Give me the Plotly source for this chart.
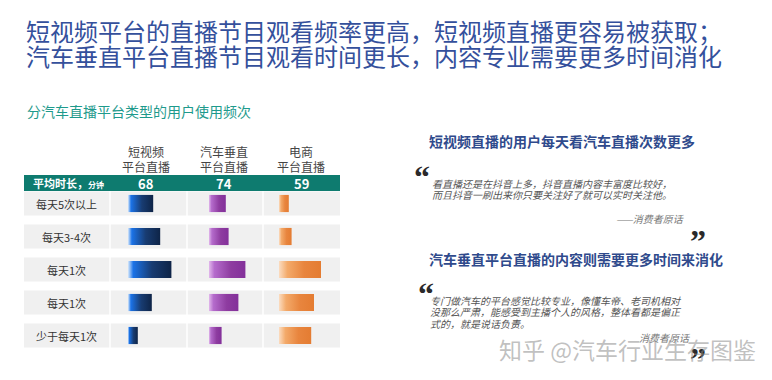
import plotly.graph_objects as go

W, H = 772, 380

# ---------------- data ----------------
title_lines = ["短视频平台的直播节目观看频率更高，短视频直播更容易被获取；",
               "汽车垂直平台直播节目观看时间更长，内容专业需要更多时间消化"]
subtitle = "分汽车直播平台类型的用户使用频次"
platform_top = ["短视频", "汽车垂直", "电商"]
platform_bottom = ["平台直播", "平台直播", "平台直播"]
avg_minutes = [68, 74, 59]
freq_labels = ["每天5次以上", "每天3-4次", "每天1次", "每天1次", "少于每天1次"]
short_video = [18, 23, 31, 17, 7]
car_vertical = [12, 14, 26, 21, 9]
ecommerce = [7, 9, 30, 25, 23]

heading1 = "短视频直播的用户每天看汽车直播次数更多"
quote1 = ["看直播还是在抖音上多，抖音直播内容丰富度比较好，",
          "而且抖音一刷出来你只要关注好了就可以实时关注他。"]
source1 = "——消费者原话"
heading2 = "汽车垂直平台直播的内容则需要更多时间来消化"
quote2 = ["专门做汽车的平台感觉比较专业，像懂车帝、老司机相对",
          "没那么严肃，能感受到主播个人的风格，整体看都是偏正",
          "式的，就是说话负责。"]
source2 = "消费者原话"
watermark = "知乎 @汽车行业生存图鉴"

# ---------------- helpers ----------------
def X(px):
    return px / W

def Y(py):
    return 1 - py / H

FONT = "Noto Sans CJK SC"
series = [short_video, car_vertical, ecommerce]
col_start = [128, 209, 279]
col_center = [146, 224, 301]
scales = [
    [[0, "#d8e9fb"], [0.12, "#1b73e8"], [0.55, "#183c72"], [1, "#0e2447"]],
    [[0, "#e2b8ec"], [0.15, "#b56ccc"], [0.6, "#8e3ca0"], [1, "#83309a"]],
    [[0, "#fbdcc0"], [0.2, "#f3aa6a"], [0.6, "#e8853e"], [1, "#e47c32"]],
]
XMAX = 50          # axis range (units)
XPIX = 70          # pixels covered by the axis range
n = len(freq_labels)
row_top, row_step = 187, 33
y_dom = [Y(row_top + n * row_step), Y(row_top)]
bar_h = 0.26
band_h = 0.36

fig = go.Figure()

for k, vals in enumerate(series):
    xa = "x" if k == 0 else f"x{k+1}"
    for i, v in enumerate(vals):
        fig.add_trace(go.Scatter(
            x=[0, v, v, 0, 0],
            y=[i - bar_h, i - bar_h, i + bar_h, i + bar_h, i - bar_h],
            fill="toself", mode="lines", line=dict(width=0),
            fillgradient=dict(type="horizontal", colorscale=scales[k]),
            xaxis=xa, yaxis="y", hoverinfo="skip", showlegend=False))

layout = dict(
    width=W, height=H, margin=dict(l=0, r=0, t=0, b=0),
    paper_bgcolor="white", plot_bgcolor="rgba(0,0,0,0)",
    showlegend=False,
    yaxis=dict(domain=y_dom, range=[n - 0.5, -0.5], visible=False, fixedrange=True),
)
for k in range(3):
    key = "xaxis" if k == 0 else f"xaxis{k+1}"
    layout[key] = dict(domain=[X(col_start[k]), X(col_start[k] + XPIX)],
                       range=[0, XMAX], visible=False, fixedrange=True,
                       anchor="y")
fig.update_layout(**layout)

shapes = []
# gray row bands
for i in range(n):
    shapes.append(dict(type="rect", xref="paper", yref="y",
                       x0=X(24), x1=X(340), y0=i - band_h, y1=i + band_h,
                       fillcolor="#f0f0f0", line=dict(width=0), layer="below"))
# subtle column separators
for sx in [110, 187, 263]:
    shapes.append(dict(type="line", xref="paper", yref="paper",
                       x0=X(sx), x1=X(sx), y0=Y(190), y1=Y(350),
                       line=dict(color="white", width=1.5), layer="below"))
# teal header band
shapes.append(dict(type="rect", xref="paper", yref="paper",
                   x0=X(24), x1=X(340), y0=Y(191), y1=Y(175),
                   fillcolor="#0e7b6f", line=dict(width=0), layer="below"))
fig.update_layout(shapes=shapes)

ann = []
def text(t, x, y, size, color, xanchor="left", yanchor="middle",
         style="normal", weight="normal", family=FONT, align="left"):
    ann.append(dict(text=t, x=X(x), y=Y(y), xref="paper", yref="paper",
                    xanchor=xanchor, yanchor=yanchor, showarrow=False,
                    align=align,
                    font=dict(size=size, color=color, family=family,
                              style=style, weight=weight)))

# title
text(title_lines[0], 24, 30, 24, "#34509c")
text(title_lines[1], 24, 55, 24, "#34509c")
# subtitle
text(subtitle, 25, 111, 14, "#1e9a8c")
# column headers
for k in range(3):
    text(platform_top[k], col_center[k], 151, 12, "#444444", xanchor="center")
    text(platform_bottom[k], col_center[k], 166, 12, "#444444", xanchor="center")
# teal row
text("平均时长，<span style='font-size:8px'>分钟</span>", 31, 183, 11, "white",
     weight="bold")
for k, v in enumerate(avg_minutes):
    text(str(v), col_center[k], 183, 13, "white", xanchor="center", weight="bold")
# row labels
for i, lab in enumerate(freq_labels):
    text(lab, 66, row_top + row_step * (i + 0.5), 11, "#333333", xanchor="center")

QF = "Liberation Serif"
QS = 32
# right side block 1
text(heading1, 427, 141, 14, "#2f4a8c", weight="bold")
text("“", 412, 177, QS, "#2a2a2a", weight="bold", family=QF)
for j, line in enumerate(quote1):
    text(line, 430, 183 + 11 * j, 10, "#555555", style="italic")
text(source1, 686, 218, 10, "#777777", xanchor="right", style="italic")
text("”", 688, 241, QS, "#2a2a2a", weight="bold", family=QF)

# right side block 2
text(heading2, 427, 259, 14, "#2f4a8c", weight="bold")
text("“", 416, 294, QS, "#2a2a2a", weight="bold", family=QF)
for j, line in enumerate(quote2):
    text(line, 428, 300 + 11.5 * j, 10, "#555555", style="italic")
text(source2, 692, 337, 10, "#777777", xanchor="right", style="italic")
text("”", 688, 359, QS, "#2a2a2a", weight="bold", family=QF)

# watermark
text(watermark, 497, 349, 23, "rgba(140,140,140,0.55)")

fig.update_layout(annotations=ann)
fig.write_html("out.html")
